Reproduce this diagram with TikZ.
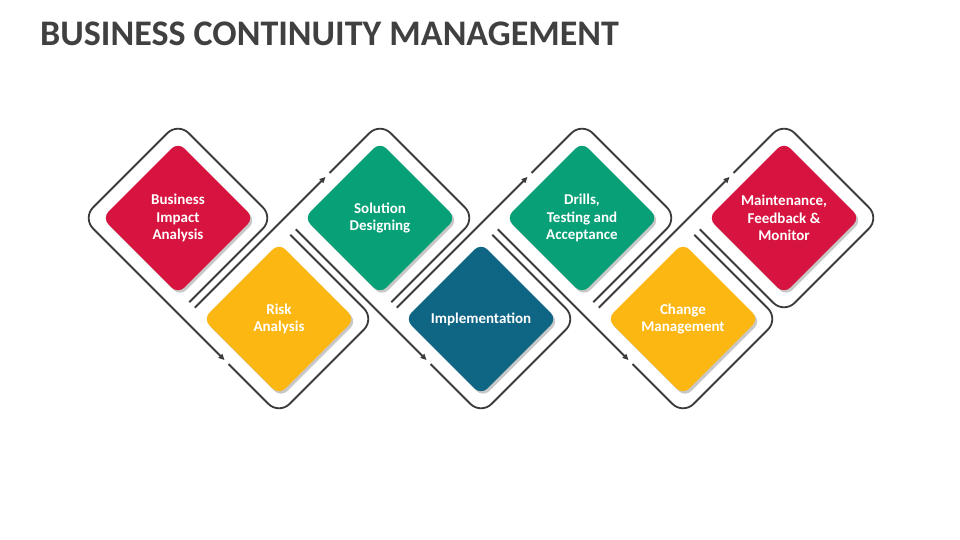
\documentclass[tikz,border=0pt]{standalone}
\usepackage{fontspec}
\setmainfont{Carlito}
\usetikzlibrary{shapes.geometric,calc,arrows.meta,shadows}
\definecolor{bcmred}{HTML}{D7143F}
\definecolor{bcmyellow}{HTML}{FDB713}
\definecolor{bcmgreen}{HTML}{07A077}
\definecolor{bcmblue}{HTML}{0E6584}
\definecolor{linegray}{HTML}{3B3B3B}
\definecolor{titlegray}{HTML}{404040}
\def\R{95.5}
\def\G{11.3}
\tikzset{
  outline/.style={draw=linegray, line width=1.8pt, rounded corners=15pt},
  arrowtip/.style={-{Triangle[length=6pt,width=5.5pt]}},
  stepdiamond/.style={shape=diamond, aspect=1, minimum width=152pt, minimum height=152pt,
    inner sep=0pt, rounded corners=9pt, text=white, align=center,
    font=\bfseries\fontsize{15}{17.5}\selectfont,
    drop shadow={shadow xshift=2pt, shadow yshift=-2.5pt, opacity=0.3, fill=black!70}},
  titletext/.style={font=\bfseries\fontsize{36}{40}\selectfont, text=titlegray, anchor=base west, inner sep=0pt}
}
\begin{document}
\begin{tikzpicture}[x=1pt,y=-1pt]
\useasboundingbox (0,0) rectangle (960,540);
\fill[white] (0,0) rectangle (960,540);

\node[titletext] (title) at (40,46) {BUSINESS CONTINUITY MANAGEMENT};

% diamonds
\node[stepdiamond, fill=bcmred]    (d1) at (178,218) {Business\\Impact\\Analysis};
\node[stepdiamond, fill=bcmyellow] (d2) at (279,319) {Risk\\Analysis};
\node[stepdiamond, fill=bcmgreen]  (d3) at (380,218) {Solution\\Designing};
\node[stepdiamond, fill=bcmblue]   (d4) at (481,319) {Implementation};
\node[stepdiamond, fill=bcmgreen]  (d5) at (582,218) {Drills,\\Testing and\\Acceptance};
\node[stepdiamond, fill=bcmyellow] (d6) at (683,319) {Change\\Management};
\node[stepdiamond, fill=bcmred]    (d7) at (784,218) {Maintenance,\\Feedback \&\\Monitor};

% diamond 1 outline and connector to diamond 2
\draw[outline, arrowtip] ($(d1)+(\G,\R-\G)$) -- ($(d1)+(\R,0)$) -- ($(d1)+(0,-\R)$) -- ($(d1)+(-\R,0)$) -- ($(d2)+(-54.5,41)$);

% diamond 2
\draw[outline] ($(d2)+(-50.5,45)$) -- ($(d2)+(0,\R)$) -- ($(d2)+(\R,0)$) -- ($(d2)+(\G,-\R+\G)$);
\draw[outline, arrowtip] ($(d2)+(-\R+\G,-\G)$) -- ($(d3)+(-54.5,-41)$);

% diamond 3
\draw[outline] ($(d3)+(-50.5,-45)$) -- ($(d3)+(0,-\R)$) -- ($(d3)+(\R,0)$) -- ($(d3)+(\G,\R-\G)$);
\draw[outline, arrowtip] ($(d3)+(-\R+\G,\G)$) -- ($(d4)+(-54.5,41)$);

% diamond 4
\draw[outline] ($(d4)+(-50.5,45)$) -- ($(d4)+(0,\R)$) -- ($(d4)+(\R,0)$) -- ($(d4)+(\G,-\R+\G)$);
\draw[outline, arrowtip] ($(d4)+(-\R+\G,-\G)$) -- ($(d5)+(-54.5,-41)$);

% diamond 5
\draw[outline] ($(d5)+(-50.5,-45)$) -- ($(d5)+(0,-\R)$) -- ($(d5)+(\R,0)$) -- ($(d5)+(\G,\R-\G)$);
\draw[outline, arrowtip] ($(d5)+(-\R+\G,\G)$) -- ($(d6)+(-54.5,41)$);

% diamond 6
\draw[outline] ($(d6)+(-50.5,45)$) -- ($(d6)+(0,\R)$) -- ($(d6)+(\R,0)$) -- ($(d6)+(\G,-\R+\G)$);
\draw[outline, arrowtip] ($(d6)+(-\R+\G,-\G)$) -- ($(d7)+(-54.5,-41)$);

% diamond 7
\draw[outline] ($(d7)+(-50.5,-45)$) -- ($(d7)+(0,-\R)$) -- ($(d7)+(\R,0)$) -- ($(d7)+(0,\R)$) -- ($(d7)+(-\R+\G,\G)$);
\end{tikzpicture}
\end{document}
